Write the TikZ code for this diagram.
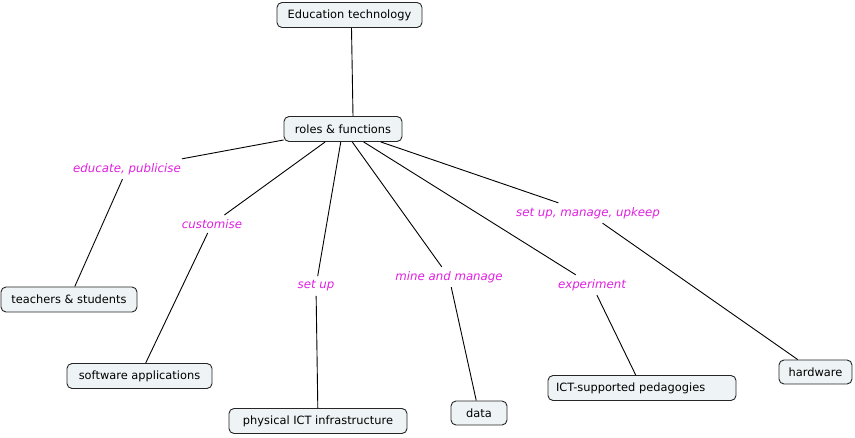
\documentclass[tikz,border=0pt]{standalone}
\usepackage{fontspec}
\setmainfont{DejaVu Sans}
\definecolor{boxfill}{HTML}{EEF3F5}
\definecolor{linkpink}{HTML}{E020E0}

\begin{document}
\begin{tikzpicture}[x=1pt,y=-1pt, line width=0.9pt,
    concept/.style={draw=black!85, fill=boxfill, rounded corners=5pt, minimum height=25pt, inner xsep=8pt, font=\fontsize{11.4}{13}\selectfont},
    link/.style={text=linkpink, inner sep=4pt, font=\fontsize{11.8}{13}\selectfont\itshape}]
    \useasboundingbox (0,0) rectangle (855,438);

    \node[concept, minimum width=145pt] (edtech) at (349.5,15) {Education technology};
    \node[concept, minimum width=118pt] (roles) at (343,129) {roles \& functions};
    \node[concept, minimum width=136pt] (teachers) at (69,299.5) {teachers \& students};
    \node[concept, minimum width=145pt] (software) at (139.5,376) {software applications};
    \node[concept, minimum width=178pt] (infra) at (318,421) {physical ICT infrastructure};
    \node[concept, minimum width=56pt, minimum height=24pt] (data) at (479,413) {data};
    \node[concept, text width=172pt, align=left] (pedagogies) at (642,388) {ICT-supported pedagogies};
    \node[concept, minimum width=73pt, minimum height=24pt] (hardware) at (815.5,372) {hardware};

    \node[link] (educate) at (127,169) {educate, publicise};
    \node[link] (customise) at (212,224) {customise};
    \node[link] (setup) at (316,286) {set up};
    \node[link] (mine) at (449,277) {mine and manage};
    \node[link] (experiment) at (592,285) {experiment};
    \node[link] (upkeep) at (588,213) {set up, manage, upkeep};

    \draw ([xshift=2pt]edtech.south) -- ([xshift=10pt]roles.north);
    \draw (roles) -- (educate);
    \draw (educate) -- (teachers);
    \draw (roles) -- (customise);
    \draw (customise) -- (software);
    \draw (roles) -- (setup);
    \draw (setup) -- (infra);
    \draw (roles) -- (mine);
    \draw (mine) -- (data);
    \draw (roles) -- (experiment);
    \draw (experiment) -- (pedagogies);
    \draw (roles) -- (upkeep);
    \draw (upkeep) -- (hardware);
\end{tikzpicture}
\end{document}
